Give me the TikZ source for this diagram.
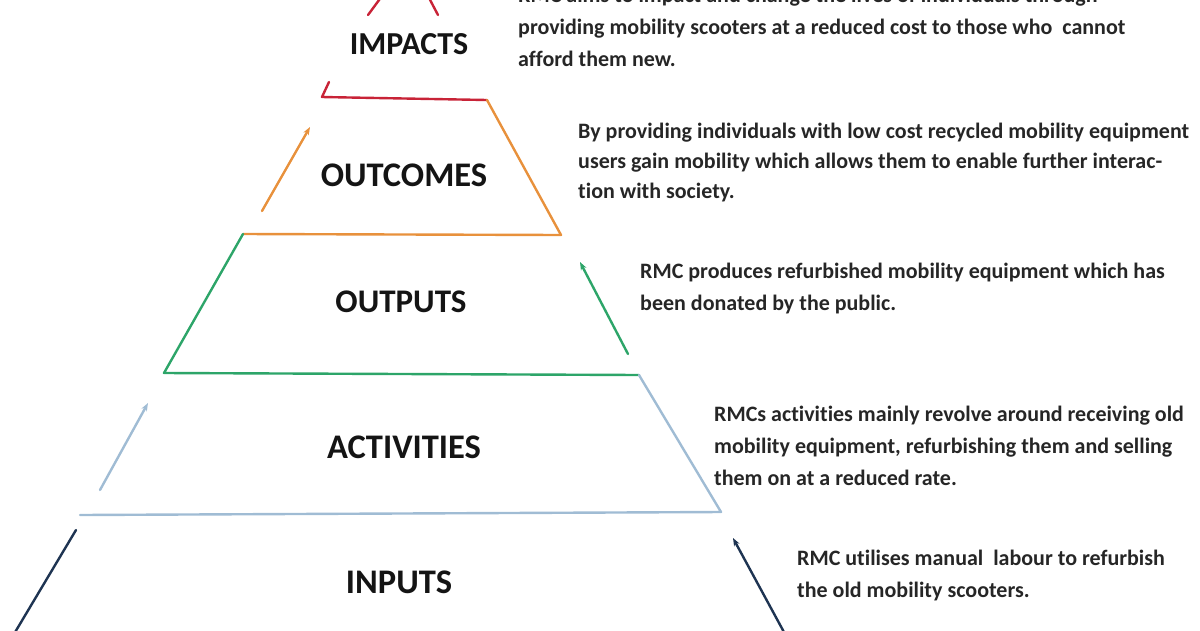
\documentclass[tikz,border=0pt]{standalone}
\usepackage{fontspec}
\setmainfont{Carlito}[Ligatures=NoCommon]
\usepackage{xcolor}
\usetikzlibrary{arrows.meta, positioning}
\definecolor{impactred}{RGB}{200,35,55}
\definecolor{outorange}{RGB}{232,145,60}
\definecolor{outgreen}{RGB}{45,165,105}
\definecolor{actblue}{RGB}{160,188,212}
\definecolor{inpnavy}{RGB}{30,52,82}
\definecolor{notegray}{RGB}{38,38,38}

\begin{document}
\begin{tikzpicture}[x=1pt,y=-1pt,>={Stealth[length=8pt,width=6pt]}]
    \tikzstyle{level}=[font=\fontsize{34.5}{40}\selectfont\bfseries,text=black!92]
    \tikzstyle{note}=[anchor=west,align=left,inner sep=0pt,text=notegray,font=\fontsize{22}{32}\selectfont\bfseries]
    \tikzstyle{side}=[line width=2.4pt,line cap=round,line join=round]

    \useasboundingbox (0,0) rectangle (1200,630);

    % pyramid corners
    \coordinate (R1) at (322,97);
    \coordinate (R2) at (329,82);
    \coordinate (R3) at (368,15);
    \coordinate (R4) at (382,-4);
    \coordinate (R5) at (438,15);
    \coordinate (R6) at (428,-4);
    \coordinate (O1) at (487,100);
    \coordinate (O2) at (561,235);
    \coordinate (G1) at (243,234);
    \coordinate (G2) at (164,373);
    \coordinate (B1) at (639,375);
    \coordinate (B2) at (721,512);
    \coordinate (B3) at (80,515);
    \coordinate (N1) at (76,530);
    \coordinate (N2) at (14,634);

    % arrow ends
    \coordinate (oa) at (262,211);
    \coordinate (ob) at (310,127);
    \coordinate (ga) at (628,354);
    \coordinate (gb) at (580,262);
    \coordinate (ba) at (100,490);
    \coordinate (bb) at (148,403);
    \coordinate (na) at (785,634);
    \coordinate (nb) at (733,538);

    % levels
    \node[level,font=\fontsize{32}{40}\selectfont\bfseries] (impacts) at (409,44) {IMPACTS};
    \node[level] (outcomes) at (404,175) {OUTCOMES};
    \node[level,font=\fontsize{33}{40}\selectfont\bfseries] (outputs) at (401,302) {OUTPUTS};
    \node[level] (activities) at (404,447) {ACTIVITIES};
    \node[level] (inputs) at (399,582) {INPUTS};

    % notes
    \node[note] (impactsnote) at (518,27) {RMC aims to impact and change the lives of individuals through\\
        providing mobility scooters at a reduced cost to those who\ \ cannot\\
        afford them new.};
    \node[note,font=\fontsize{22}{30}\selectfont\bfseries] (outcomesnote) at (578,163) {By providing individuals with low cost recycled mobility equipment\\
        users gain mobility which allows them to enable further interac-\\
        tion with society.};
    \node[note] (outputsnote) at (640,289) {RMC produces refurbished mobility equipment which has\\
        been donated by the public.};
    \node[note] (activitiesnote) at (714,446) {RMCs activities mainly revolve around receiving old\\
        mobility equipment, refurbishing them and selling\\
        them on at a reduced rate.};
    \node[note] (inputsnote) at (797,576) {RMC utilises manual\ \ labour to refurbish\\
        the old mobility scooters.};

    \draw[side,impactred] (R2) -- (R1) -- (O1);
    \draw[side,impactred] (R3) -- (R4);
    \draw[side,impactred] (R5) -- (R6);
    \draw[side,outorange] (O1) -- (O2) -- (G1);
    \draw[side,outgreen] (G1) -- (G2) -- (B1);
    \draw[side,actblue] (B1) -- (B2) -- (B3);
    \draw[side,inpnavy] (N1) -- (N2);

    \path[->,draw,side]
    (oa) edge[outorange] (ob)
    (ga) edge[outgreen] (gb)
    (ba) edge[actblue] (bb)
    (na) edge[inpnavy] (nb)
    ;

\end{tikzpicture}
\end{document}
